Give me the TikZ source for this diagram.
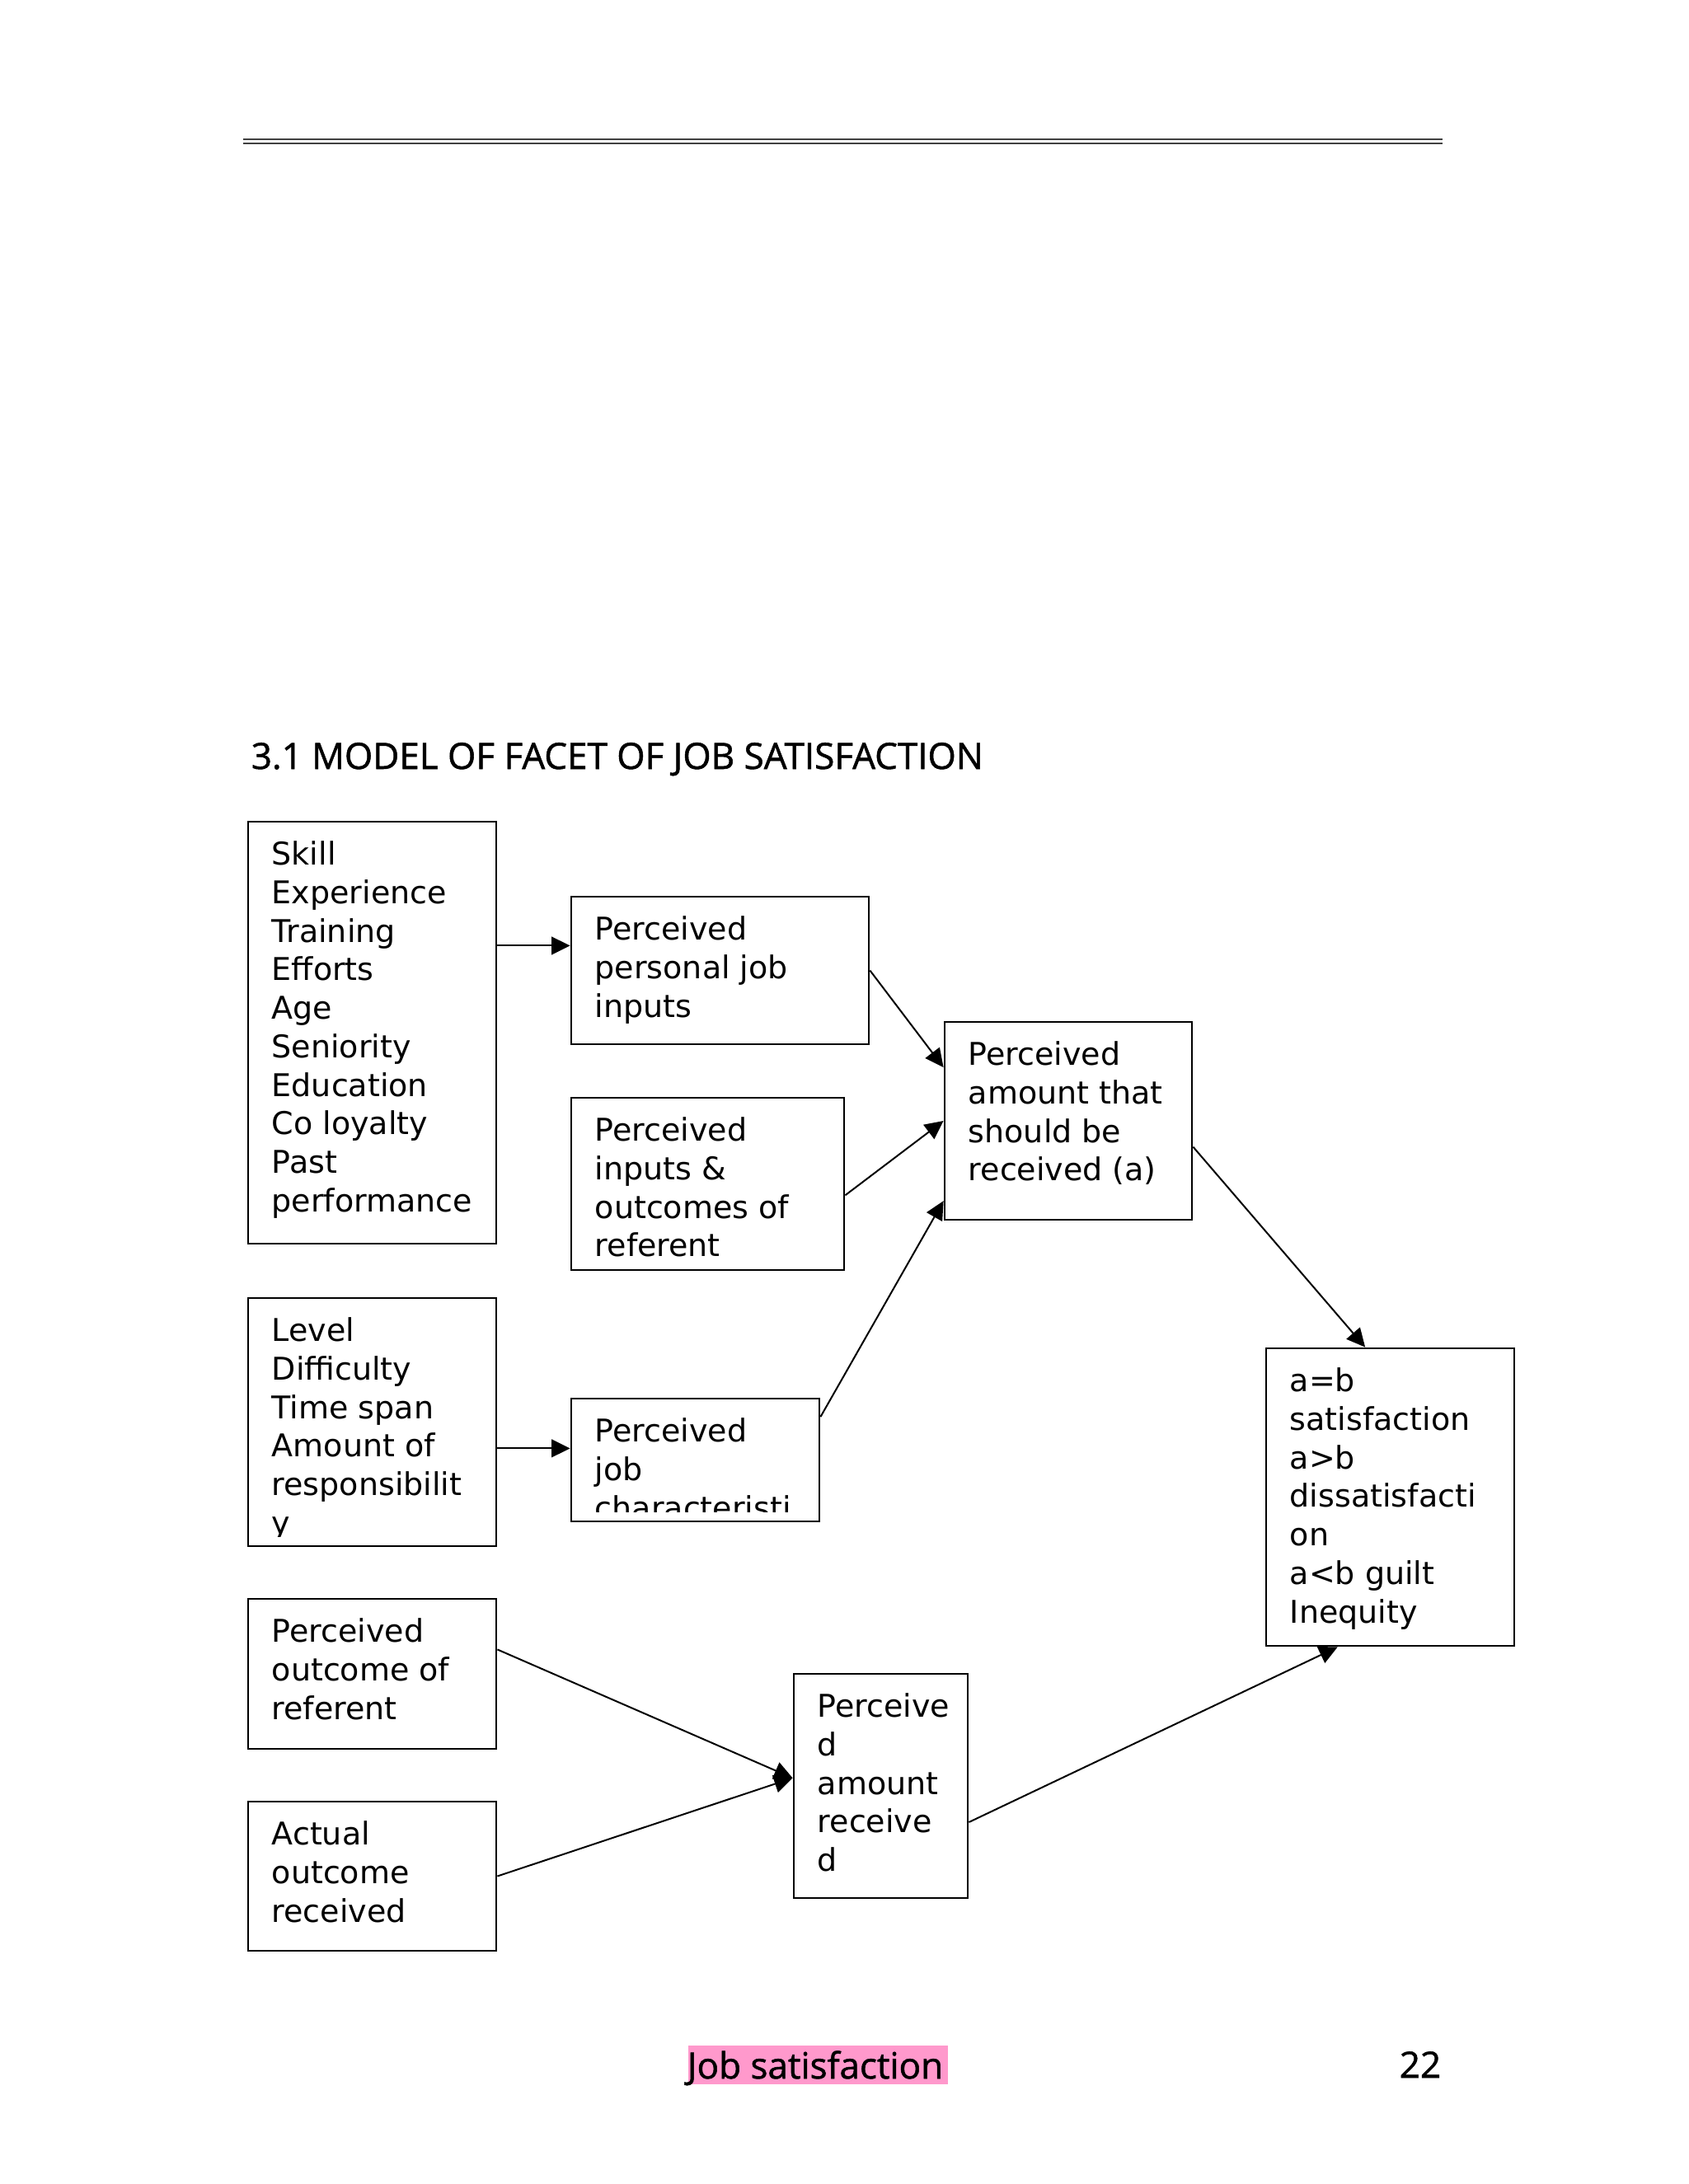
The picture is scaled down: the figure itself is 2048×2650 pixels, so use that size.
\documentclass[tikz,border=0pt]{standalone}
\usepackage{fontspec}
\setmainfont{DejaVu Sans}
\newfontfamily\titlefont[FakeBold=1.2]{Open Sans}
\usetikzlibrary{arrows.meta,calc}
\definecolor{hlpink}{RGB}{255,153,204}
\newcommand\facetbox[6]{%
  \node[boxnode, minimum width={(#4-#2)*0.25pt}, minimum height={(#5-#3)*0.25pt}] (#1) at ({(#2+#4)/2},{(#3+#5)/2}) {};
  \begin{scope}
    \clip ({#2},{#3}) rectangle ({#4},{#5-12});
    \node[boxtext] (#1-t) at ({#2+28},{#3}) {\rule{0pt}{13pt}#6};
  \end{scope}}
\begin{document}
\begin{tikzpicture}[x=0.25pt,y=-0.25pt,
  boxnode/.style={draw=black, line width=0.7pt, inner sep=0pt},
  boxtext/.style={anchor=north west, inner sep=0pt, align=left, font=\fontsize{9.5}{11.675}\selectfont},
  conn/.style={line width=0.5pt, -{Triangle[length=5.6pt,width=5.4pt]}},
  plain/.style={anchor=base west, inner sep=0pt, font=\titlefont\fontsize{11}{13}\selectfont}]
\useasboundingbox (0,0) rectangle (2048,2650);
% header rule
\draw[line width=0.6pt, black!75] (295,169) -- (1750,169);
\draw[line width=0.6pt, black!75] (295,174) -- (1750,174);
% title
\node[plain] (title) at (304,933) {3.1 MODEL OF FACET OF JOB SATISFACTION};
% boxes
\facetbox{skill}{301}{997}{602}{1509}{Skill\\Experience\\Training\\Efforts\\Age\\Seniority\\Education\\Co loyalty\\Past\\performance}
\facetbox{pin}{693}{1088}{1054}{1267}{Perceived\\personal job\\inputs}
\facetbox{ref}{693}{1332}{1024}{1541}{Perceived\\inputs \&\\outcomes of\\referent}
\facetbox{amt}{1146}{1240}{1446}{1480}{Perceived\\amount that\\should be\\received (a)}
\facetbox{level}{301}{1575}{602}{1876}{Level\\Difficulty\\Time span\\Amount of\\responsibilit\\y}
\facetbox{jobc}{693}{1697}{994}{1846}{Perceived\\job\\characteristi}
\facetbox{res}{1536}{1636}{1837}{1997}{a=b\\satisfaction\\a>b\\dissatisfacti\\on\\a<b guilt\\Inequity}
\facetbox{pout}{301}{1940}{602}{2122}{Perceived\\outcome of\\referent}
\facetbox{act}{301}{2186}{602}{2367}{Actual\\outcome\\received}
\facetbox{pd}{963}{2031}{1174}{2303}{Perceive\\d\\amount\\receive\\d}
% connectors
\coordinate (a1s) at ($(skill.north east)!0.295!(skill.south east)$);
\draw[conn] (a1s) -- (a1s -| pin.west);
\draw[conn] (pin.east) -- ($(amt.north west)!0.233!(amt.south west)$);
\draw[conn] ($(ref.north east)!0.565!(ref.south east)$) -- (amt.west);
\draw[conn] ($(jobc.north east)!0.155!(jobc.south east)$) -- ($(amt.north west)!0.9!(amt.south west)$);
\coordinate (a5s) at ($(level.north east)!0.605!(level.south east)$);
\draw[conn] (a5s) -- (a5s -| jobc.west);
\draw[conn] ($(amt.north east)!0.63!(amt.south east)$) -- ($(res.north west)!0.4!(res.north east)$);
\coordinate (pdin) at ($(pd.north west)!0.465!(pd.south west)$);
\draw[conn] ($(pout.north east)!0.34!(pout.south east)$) -- (pdin);
\draw[conn] (act.east) -- (pdin);
\draw[conn] ($(pd.north east)!0.66!(pd.south east)$) -- ($(res.south west)!0.29!(res.south east)$);
% footer
\fill[hlpink] (835,2482) rectangle (1150,2529);
\node[plain] (footer) at (833,2522) {Job satisfaction};
\node[plain] (page) at (1697,2521) {22};
\end{tikzpicture}
\end{document}
